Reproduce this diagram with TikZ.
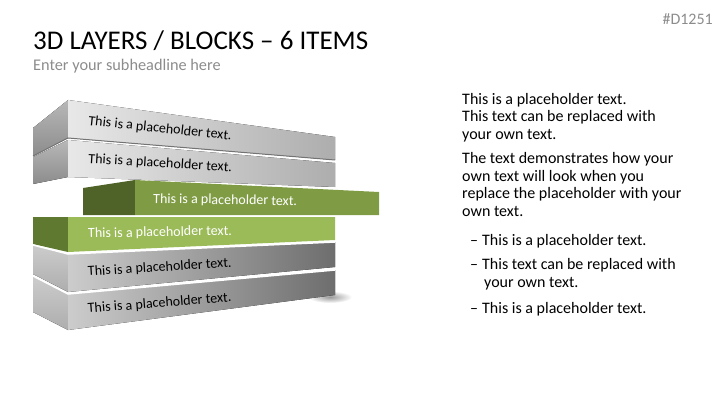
\documentclass[tikz,border=0pt]{standalone}
\usepackage{fontspec}
\setmainfont{Carlito}

\definecolor{greenfront}{HTML}{9BBB59}
\definecolor{greenside}{HTML}{5F7A30}
\definecolor{darkgreenfront}{HTML}{7F9C45}
\definecolor{darkgreenside}{HTML}{4F6228}

\begin{document}
\begin{tikzpicture}[
			x=1pt, y=-1pt,
			every node/.style={inner sep=0pt},
			body/.style={anchor=base west, align=left, font=\fontsize{16}{17.5}\selectfont},
			blocktext/.style={anchor=base west, font=\fontsize{14}{16}\selectfont},
			lightfront/.style={left color=black!9, right color=black!32},
			darkfront/.style={left color=black!20, right color=black!57},
			lightside/.style={top color=black!28, bottom color=black!45},
			darkside/.style={top color=black!20, bottom color=black!32}
			]
			\useasboundingbox (0,0) rectangle (727,409);
			% heading
			\node[anchor=base east, text=black!45, font=\fontsize{16}{18}\selectfont] (code) at (713,25) {\#D1251};
			\node[anchor=base west, font=\fontsize{27}{30}\selectfont] (title) at (33,50) {3D LAYERS / BLOCKS – 6 ITEMS};
			\node[anchor=base west, text=black!45, font=\fontsize{16.3}{18}\selectfont] (subtitle) at (33,71) {Enter your subheadline here};
			% shadow
			\shade[inner color=black!40, outer color=white] (330,297) ellipse [x radius=22, y radius=6];
			% block 1
			\fill[lightside] (33,128) -- (68,100) -- (68,138) -- (33,156) -- cycle;
			\fill[lightfront] (68,100) -- (335,137) -- (335,160) -- (68,138) -- cycle;
			\draw[black!55, line width=1pt] (33,156) -- (68,138) -- (335,160);
			% block 2
			\fill[lightside] (33,157) -- (68,140) -- (68,177) -- (33,184) -- cycle;
			\fill[lightfront] (68,140) -- (335,163) -- (335,187) -- (68,177) -- cycle;
			% block 3
			\fill[darkgreenside] (83,188) -- (135,180) -- (135,215) -- (83,215) -- cycle;
			\fill[darkgreenfront] (135,180) -- (379,192) -- (379,215) -- (135,215) -- cycle;
			% block 4
			\fill[greenside] (33,217) -- (68,217) -- (68,252) -- (33,244) -- cycle;
			\fill[greenfront] (68,217) -- (335,217) -- (335,240) -- (68,252) -- cycle;
			% block 5
			\fill[darkside] (33,245) -- (68,254) -- (68,292) -- (33,274) -- cycle;
			\fill[darkfront] (68,254) -- (335,242) -- (335,267) -- (68,292) -- cycle;
			\draw[white, line width=1.5pt] (33,245) -- (68,254) -- (335,242);
			% block 6
			\fill[darkside] (33,276) -- (68,294) -- (68,330) -- (33,312) -- cycle;
			\fill[darkfront] (68,294) -- (335,270) -- (335,295) -- (68,330) -- cycle;
			\draw[white, line width=1.5pt] (33,276) -- (68,294) -- (335,270);
			% block texts
			\node[blocktext, rotate=-6] (text1) at (88,125) {This is a placeholder text.};
			\node[blocktext, rotate=-3.5] (text2) at (88,163) {This is a placeholder text.};
			\node[blocktext, rotate=-1, text=white] (text3) at (153,203) {This is a placeholder text.};
			\node[blocktext, rotate=1.2, text=white] (text4) at (88,238) {This is a placeholder text.};
			\node[blocktext, rotate=3.6] (text5) at (88,276) {This is a placeholder text.};
			\node[blocktext, rotate=4.5] (text6) at (88,313) {This is a placeholder text.};
			% text on the right
			\node[body] (para1) at (462,139) {This is a placeholder text.\\This text can be replaced with\\your own text.};
			\node[body] (para2) at (462,216) {The text demonstrates how your\\own text will look when you\\replace the placeholder with your\\own text.};
			\node[body] (item1) at (470,245) {–\hspace{4pt}This is a placeholder text.};
			\node[body] (item2) at (470,287) {–\hspace{4pt}This text can be replaced with\\\hspace*{14pt}your own text.};
			\node[body] (item3) at (470,313) {–\hspace{4pt}This is a placeholder text.};
		\end{tikzpicture}
\end{document}
